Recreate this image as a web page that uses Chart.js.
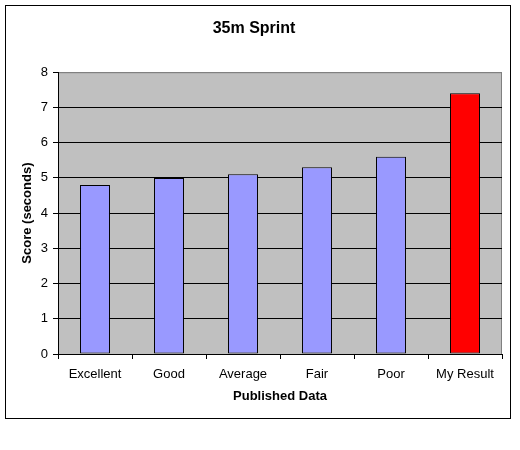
<!DOCTYPE html>
<html>
<head>
  <meta charset="utf-8" />
  <script src="https://cdn.jsdelivr.net/npm/chart.js@4.4.0/dist/chart.umd.min.js"></script>
  <style>
    body{margin:0;background:#fff;font-family:'Liberation Sans',Arial,sans-serif;}
    #frame{position:absolute;left:5px;top:5px;width:504px;height:412px;border:1px solid #000;background:#fff;}
    #frame canvas{display:block;}
  </style>
</head>
<body>
<div id="frame"><canvas id="sprintChart" width="504" height="412"></canvas></div>

<script>
const categories = ['Excellent', 'Good', 'Average', 'Fair', 'Poor', 'My Result'];
const scores = [4.8, 5.0, 5.1, 5.3, 5.6, 7.4];
const barColors = ['#9999FF', '#9999FF', '#9999FF', '#9999FF', '#9999FF', '#FF0000'];

const FONT = "'Liberation Sans', Arial, sans-serif";

// gray plot area with a thin gray frame, like the old spreadsheet charts
const plotBg = {
  id: 'plotBg',
  beforeDraw(chart){
    const a = chart.chartArea, ctx = chart.ctx;
    ctx.save();
    ctx.fillStyle = '#C0C0C0';
    ctx.fillRect(a.left, a.top, a.right - a.left, a.bottom - a.top);
    ctx.strokeStyle = '#808080';
    ctx.lineWidth = 1;
    ctx.strokeRect(a.left + 0.5, a.top + 0.5, a.right - a.left - 1, a.bottom - a.top);
    ctx.restore();
  }
};

new Chart(document.getElementById('sprintChart'), {
  type: 'bar',
  data: {
    labels: categories,
    datasets: [{
      data: scores,
      backgroundColor: barColors,
      borderColor: '#000',
      borderWidth: 1,
      borderSkipped: false,
      categoryPercentage: 1,
      barPercentage: 0.405
    }]
  },
  options: {
    responsive: false,
    animation: false,
    devicePixelRatio: 1,
    layout: { padding: { left: 0, right: 8, top: 0, bottom: 0 } },
    plugins: {
      legend: { display: false },
      tooltip: { enabled: false },
      title: {
        display: true,
        text: '35m Sprint',
        color: '#000',
        font: { family: FONT, size: 16, weight: 'bold' },
        padding: { top: 13, bottom: 34 }
      }
    },
    scales: {
      x: {
        afterFit: s => { s.height = 64; },
        grid: { drawOnChartArea: false, drawTicks: true, tickLength: 5, color: '#000', offset: true },
        border: { display: true, color: '#000' },
        ticks: { color: '#000', font: { family: FONT, size: 13 }, padding: 8 },
        title: {
          display: true, text: 'Published Data', color: '#000',
          font: { family: FONT, size: 13, weight: 'bold' },
          padding: { top: 4, bottom: 14 }
        }
      },
      y: {
        min: 0, max: 8,
        afterFit: s => { s.width = 52; },
        grid: {
          color: c => c.tick.value === 8 ? '#808080' : '#000',
          tickColor: '#000',
          tickLength: 5
        },
        border: { display: true, color: '#000' },
        ticks: { stepSize: 1, color: '#000', font: { family: FONT, size: 13 }, padding: 5 },
        title: {
          display: true, text: 'Score (seconds)', color: '#000',
          font: { family: FONT, size: 13, weight: 'bold' },
          padding: { top: 14, bottom: 0 }
        }
      }
    }
  },
  plugins: [plotBg]
});
</script>
</body>
</html>
